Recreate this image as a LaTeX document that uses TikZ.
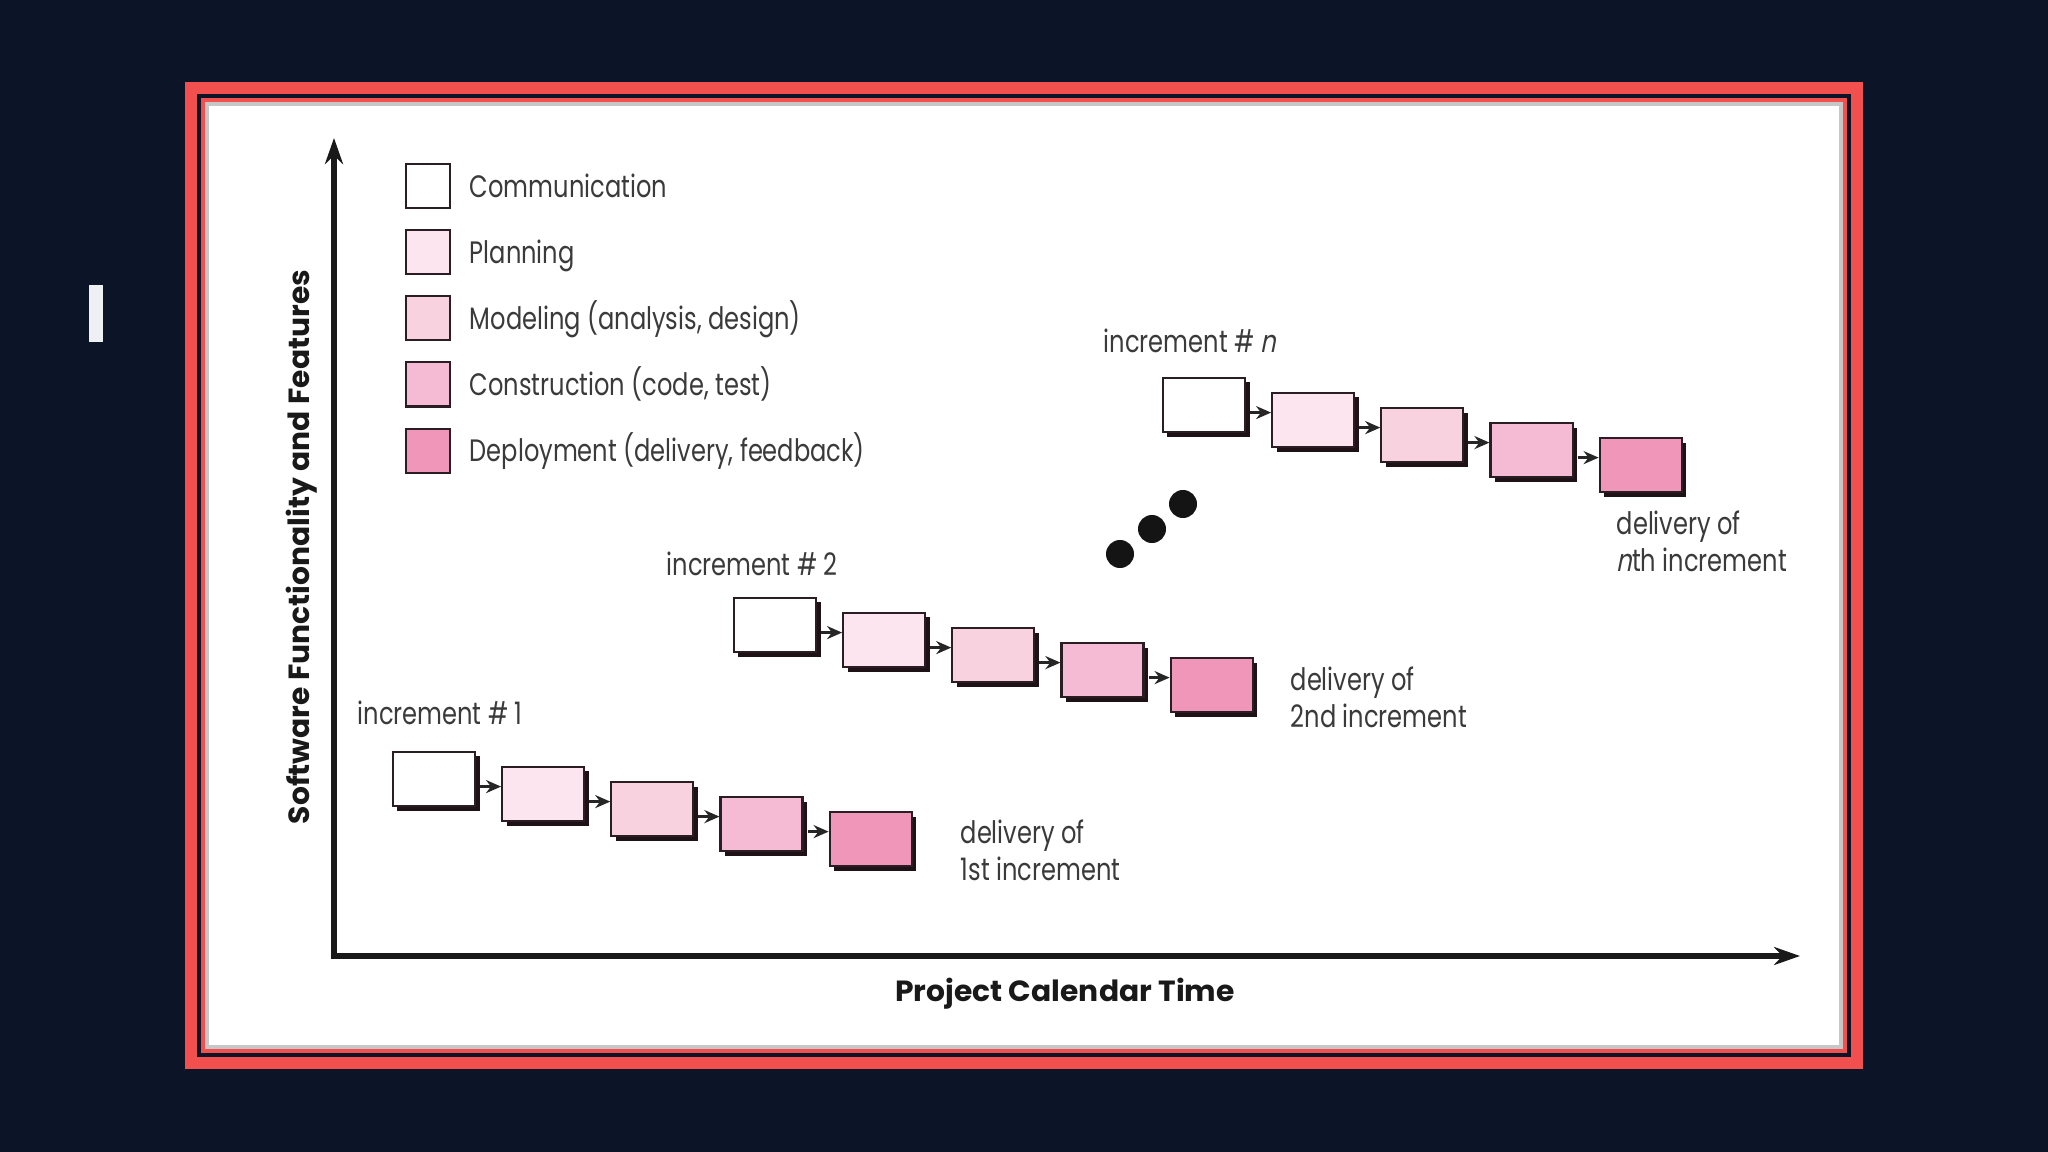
\documentclass[tikz,border=0pt]{standalone}
\usepackage{fontspec}
\setmainfont{Poppins}[FakeStretch=0.78, AutoFakeSlant=0.2]
\newfontfamily\axisfont{Poppins}[FakeStretch=1.02]
\usetikzlibrary{arrows.meta, positioning, shadows}

\definecolor{bgnavy}{HTML}{0C1428}
\definecolor{framered}{HTML}{F24F4F}
\definecolor{lightbar}{HTML}{EEF0F3}
\definecolor{plan}{HTML}{FCE5EE}
\definecolor{model}{HTML}{F9D2E0}
\definecolor{constr}{HTML}{F6BBD4}
\definecolor{deploy}{HTML}{EF96B9}
\definecolor{edge}{HTML}{2A1E24}
\definecolor{shade}{HTML}{1E1216}
\definecolor{ink}{HTML}{3A3A3A}

\begin{document}
\begin{tikzpicture}[x=0.01cm, y=-0.01cm,
  node distance=2.5mm,
  phase/.style={draw=edge, line width=0.6pt, minimum width=8.2mm,
                minimum height=5.4mm, inner sep=0pt,
                drop shadow={shadow xshift=0.45mm, shadow yshift=-0.45mm,
                             opacity=1, fill=shade}},
  next/.style={phase, right=of #1, yshift=-1.5mm},
  swatch/.style={draw=edge, line width=0.6pt, minimum size=4.4mm, inner sep=0pt},
  lbl/.style={inner sep=0pt, text=ink, font=\fontsize{8.8}{10.6}\selectfont},
  keytext/.style={lbl, right=1.8mm of #1, text height=2.2mm, text depth=0pt},
  axlbl/.style={inner sep=0pt, text=black!90, font=\axisfont\bfseries\fontsize{8.3}{9}\selectfont},
  bullet/.style={circle, fill=black!92, minimum size=2.8mm, inner sep=0pt},
  arr/.style={-{Stealth[length=1.5mm, width=1.3mm]}, line width=1pt,
              shorten <=0.4mm, draw=black!85},
  axisline/.style={{Stealth[length=2.6mm, width=1.8mm]}-{Stealth[length=2.6mm, width=1.8mm]},
                   line width=1.7pt, draw=black!90}]

% backdrop and frame
\useasboundingbox (0,0) rectangle (2048,1152);
\fill[bgnavy] (0,0) rectangle (2048,1152);
\fill[lightbar] (89,285) rectangle (103,342);
\fill[framered] (185,82) rectangle (1863,1069);
\draw[bgnavy, line width=1pt] (199,96) rectangle (1849,1055);
\fill[white] (205,102) rectangle (1843,1049);
\draw[black!22, line width=1pt] (207,104) rectangle (1841,1047);

% axes
\coordinate (ytop) at (334,138);
\coordinate (xend) at (1800,956);
\draw[axisline] (ytop) |- (xend);
\node[axlbl] (xlab) at (1065,994) {Project Calendar Time};
\node[axlbl, rotate=90] (ylab) at (302,547) {Software Functionality and Features};

% legend
\node[swatch, fill=white] (lg1) at (428,186) {};
\node[swatch, fill=plan, below=2.0mm of lg1] (lg2) {};
\node[swatch, fill=model, below=2.0mm of lg2] (lg3) {};
\node[swatch, fill=constr, below=2.0mm of lg3] (lg4) {};
\node[swatch, fill=deploy, below=2.0mm of lg4] (lg5) {};
\node[keytext=lg1] (lt1) {Communication};
\node[keytext=lg2] (lt2) {Planning};
\node[keytext=lg3] (lt3) {Modeling (analysis, design)};
\node[keytext=lg4] (lt4) {Construction (code, test)};
\node[keytext=lg5] (lt5) {Deployment (delivery, feedback)};

% increment 1
\node[lbl, anchor=base west] (inc1) at (357,725) {increment \# 1};
\node[phase, fill=white] (a1) at (434,779) {};
\node[next=a1, fill=plan] (a2) {};
\node[next=a2, fill=model] (a3) {};
\node[next=a3, fill=constr] (a4) {};
\node[next=a4, fill=deploy] (a5) {};
\node[lbl, align=left, anchor=north west] (del1) at (960,819) {delivery of\\1st increment};
\draw[arr] (a1.east |- a2.170) -- (a2.170);
\draw[arr] (a2.east |- a3.170) -- (a3.170);
\draw[arr] (a3.east |- a4.170) -- (a4.170);
\draw[arr] (a4.east |- a5.170) -- (a5.170);

% increment 2
\node[lbl, anchor=base west] (inc2) at (666,575) {increment \# 2};
\node[phase, fill=white] (b1) at (775,625) {};
\node[next=b1, fill=plan] (b2) {};
\node[next=b2, fill=model] (b3) {};
\node[next=b3, fill=constr] (b4) {};
\node[next=b4, fill=deploy] (b5) {};
\node[lbl, align=left, anchor=north west] (del2) at (1290,666) {delivery of\\2nd increment};
\draw[arr] (b1.east |- b2.170) -- (b2.170);
\draw[arr] (b2.east |- b3.170) -- (b3.170);
\draw[arr] (b3.east |- b4.170) -- (b4.170);
\draw[arr] (b4.east |- b5.170) -- (b5.170);

% more increments
\node[bullet] (d1) at (1120,554) {};
\node[bullet] (d2) at (1152,529) {};
\node[bullet] (d3) at (1183,504) {};

% increment n
\node[lbl, anchor=base west] (incn) at (1103,353) {increment \# \textit{n}};
\node[phase, fill=white] (c1) at (1204,405) {};
\node[next=c1, fill=plan] (c2) {};
\node[next=c2, fill=model] (c3) {};
\node[next=c3, fill=constr] (c4) {};
\node[next=c4, fill=deploy] (c5) {};
\node[lbl, align=left, anchor=north west] (deln) at (1616,510) {delivery of\\\textit{n}th increment};
\draw[arr] (c1.east |- c2.170) -- (c2.170);
\draw[arr] (c2.east |- c3.170) -- (c3.170);
\draw[arr] (c3.east |- c4.170) -- (c4.170);
\draw[arr] (c4.east |- c5.170) -- (c5.170);
\end{tikzpicture}
\end{document}
